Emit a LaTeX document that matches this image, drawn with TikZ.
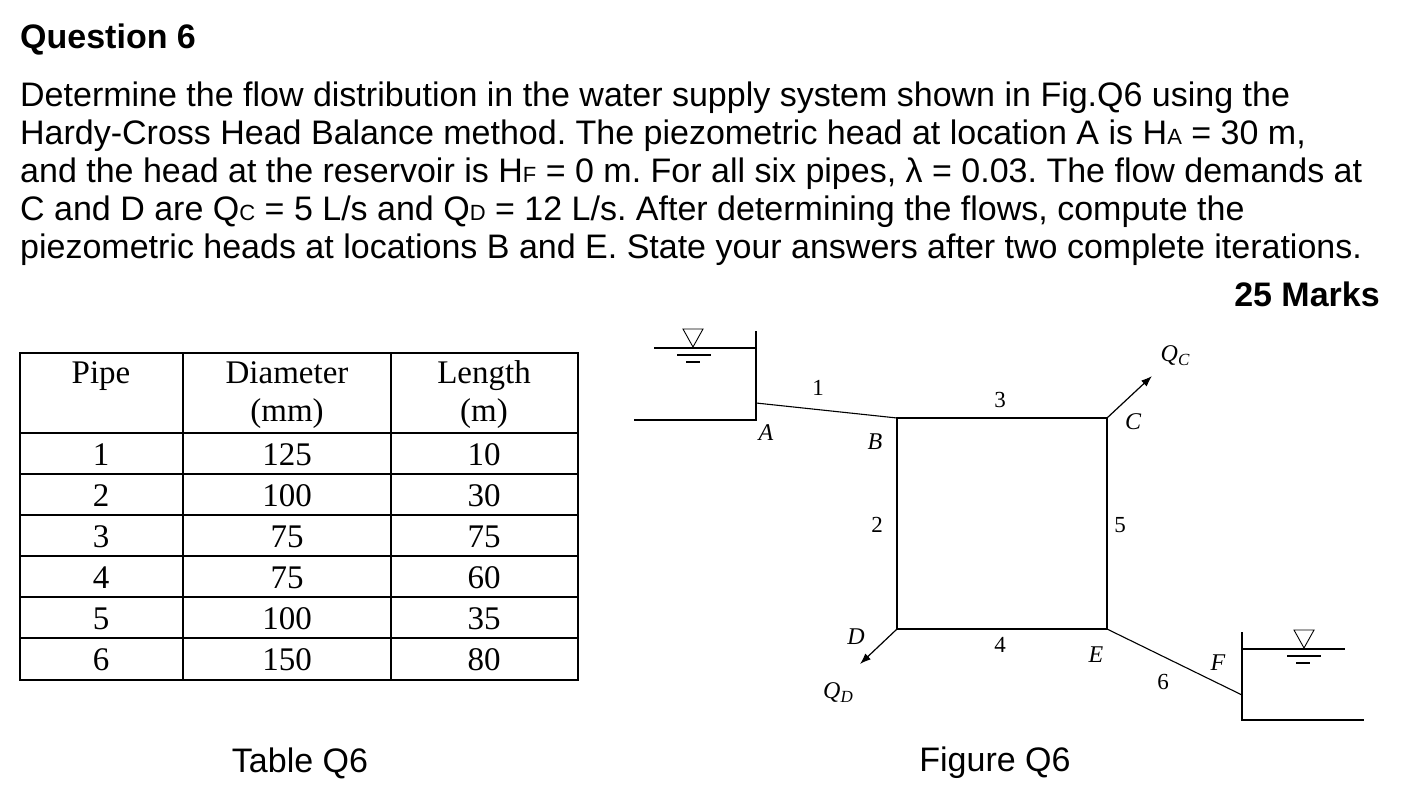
\documentclass[tikz,border=0pt]{standalone}
\usepackage{fontspec}
\usetikzlibrary{arrows.meta}
\setmainfont{Liberation Sans}
\newfontfamily\tms{Liberation Serif}
\newcommand{\sbs}[1]{{\fontsize{22}{22}\selectfont #1}}
\newcommand{\qsub}[1]{\raisebox{-4pt}{\fontsize{17}{17}\selectfont #1}}
\frenchspacing
\begin{document}
\begin{tikzpicture}[x=1pt,y=-1pt,
  para/.style={anchor=base west,inner sep=0,font=\fontsize{34}{34}\selectfont},
  cell/.style={inner sep=0,font=\tms\fontsize{33}{38}\selectfont,align=center},
  lab/.style={inner sep=0,font=\tms\itshape\fontsize{24}{24}\selectfont},
  num/.style={inner sep=0,font=\tms\fontsize{23}{23}\selectfont},
  pipe/.style={line width=1.1pt},
  wall/.style={line width=1.8pt},
  flow/.style={line width=1.2pt,-{Latex[length=11pt,width=8pt]}}]
\useasboundingbox (0,0) rectangle (1403,803);
\node[para,font=\bfseries\fontsize{34}{34}\selectfont] (q) at (20,48) {Question 6};
\node[para] (l1) at (20,106) {Determine the flow distribution in the water supply system shown in Fig.Q6 using the};
\node[para] (l2) at (20,144) {Hardy-Cross Head Balance method. The piezometric head at location A is H\sbs{A} = 30 m,};
\node[para] (l3) at (20,182) {and the head at the reservoir is H\sbs{F} = 0 m. For all six pipes, λ = 0.03. The flow demands at};
\node[para] (l4) at (20,220) {C and D are Q\sbs{C} = 5 L/s and Q\sbs{D} = 12 L/s. After determining the flows, compute the};
\node[para] (l5) at (20,258) {piezometric heads at locations B and E. State your answers after two complete iterations.};
\node[para,anchor=base east,font=\bfseries\fontsize{34}{34}\selectfont] (mk) at (1380,306) {25 Marks};
% table
\draw[line width=1.2pt] (20,353) rectangle (578,680);
\foreach \y in {433,474,515,556,597,638} \draw[line width=1.2pt] (20,\y) -- (578,\y);
\foreach \x in {183,391} \draw[line width=1.2pt] (\x,353) -- (\x,680);
\node[cell] (h1) at (101,376) {Pipe};
\node[cell] (h2) at (287,395) {Diameter\\(mm)};
\node[cell] (h3) at (484,395) {Length\\(m)};
\foreach \p/\d/\l [count=\i] in {1/125/10,2/100/30,3/75/75,4/75/60,5/100/35,6/150/80}{
  \pgfmathsetmacro\yy{433+41*(\i-1)+22}
  \node[cell] (p\i) at (101,\yy) {\p};
  \node[cell] (d\i) at (287,\yy) {\d};
  \node[cell] (g\i) at (484,\yy) {\l};
}
\node[inner sep=0,font=\fontsize{34}{34}\selectfont] (tq) at (300,763) {Table Q6};
\node[inner sep=0,font=\fontsize{34}{34}\selectfont] (fq) at (995,763) {Figure Q6};
% network
\coordinate (A) at (756,403); \coordinate (B) at (897,418);
\coordinate (C) at (1107,418); \coordinate (D) at (897,629);
\coordinate (E) at (1107,629); \coordinate (F) at (1242,695);
\coordinate (Qc) at (1152,376); \coordinate (Qd) at (860,664);
\draw[wall] (756,331) -- (756,420) -- (634,420);
\draw[pipe] (654,348) -- (756,348);
\draw[line width=0.9pt] (683,329) -- (703,329) -- (693,347) -- cycle;
\draw[pipe] (677,355) -- (711,355); \draw[pipe] (686,362) -- (700,362);
\draw[wall] (1242,632) -- (1242,720) -- (1364,720);
\draw[pipe] (1242,649) -- (1345,649);
\draw[line width=0.9pt] (1294,630) -- (1314,630) -- (1304,648) -- cycle;
\draw[pipe] (1287,656) -- (1321,656); \draw[pipe] (1296,663) -- (1310,663);
\draw[pipe] (A) -- (B);
\draw[line width=1.4pt] (B) -- (C) -- (E) -- (D) -- cycle;
\draw[pipe] (E) -- (F);
\draw[flow] (C) -- (Qc);
\draw[flow] (D) -- (Qd);
\node[num] (n1) at (818,388) {1};
\node[num] (n3) at (1000,400) {3};
\node[num] (n2) at (877,525) {2};
\node[num] (n5) at (1120,525) {5};
\node[num] (n4) at (1000,645) {4};
\node[num] (n6) at (1163,682) {6};
\node[lab] (la) at (766,433) {A};
\node[lab] (lb) at (875,442) {B};
\node[lab] (lc) at (1133,422) {C};
\node[lab] (ld) at (856,637) {D};
\node[lab] (le) at (1096,655) {E};
\node[lab] (lf) at (1218,663) {F};
\node[lab] (lqc) at (1175,356) {Q\qsub{C}};
\node[lab] (lqd) at (838,693) {Q\qsub{D}};
\end{tikzpicture}
\end{document}
